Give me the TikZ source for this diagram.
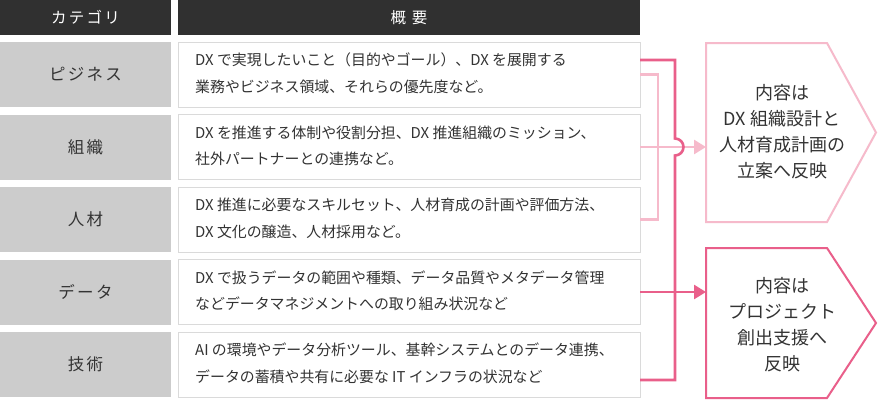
\documentclass[tikz,border=0pt]{standalone}
\usepackage{fontspec}
\setmainfont{Noto Sans CJK JP}
\newfontfamily\catfont[LetterSpace=14]{Noto Sans CJK JP}
\usetikzlibrary{arrows.meta,calc}
\definecolor{hdr}{HTML}{303030}
\definecolor{catgray}{HTML}{CCCCCC}
\definecolor{boxline}{HTML}{DADADA}
\definecolor{txt}{HTML}{333333}
\definecolor{pinkdark}{HTML}{E95F8A}
\definecolor{pinklight}{HTML}{F6BACB}
\tikzset{
  hdrbox/.style={fill=hdr, draw=none, minimum height=35pt, inner sep=0pt, outer sep=0pt,
    text=white, font=\catfont\fontsize{15.5}{18}\selectfont},
  catbox/.style={fill=catgray, draw=none, minimum width=171pt, minimum height=65pt, inner sep=0pt, outer sep=0pt,
    text=txt, font=\catfont\fontsize{16.5}{20}\selectfont},
  ovbox/.style={fill=white, draw=boxline, line width=1pt, minimum width=462pt, minimum height=65pt, inner sep=0pt, outer sep=0pt},
  ovtext/.style={anchor=west, align=left, inner sep=0pt, text=txt, font=\fontsize{14.9}{26.5}\selectfont},
  pentarea/.style={draw=none, minimum width=171pt, inner sep=0pt, outer sep=0pt},
  penttext/.style={align=center, inner sep=0pt, text=txt, font=\fontsize{18}{26}\selectfont},
  darkline/.style={draw=pinkdark, line width=2.6pt},
  lightline/.style={draw=pinklight, line width=2.6pt},
  tipped/.style={-{Triangle[length=12pt,width=14pt]}},
}
\begin{document}
\begin{tikzpicture}[x=1pt,y=-1pt]
\useasboundingbox (0,0) rectangle (878,400);
\fill[white] (0,0) rectangle (878,400);

% header
\node[hdrbox, minimum width=171pt] (h1) at (85.5,17.5) {カテゴリ};
\node[hdrbox, minimum width=462pt] (h2) at (409,17.5) {概 要};

% categories
\node[catbox] (c1) at (85.5,74.5) {ピジネス};
\node[catbox] (c2) at (85.5,147) {組織};
\node[catbox] (c3) at (85.5,219.5) {人材};
\node[catbox] (c4) at (85.5,292) {データ};
\node[catbox] (c5) at (85.5,364.5) {技術};

% overview boxes
\node[ovbox] (o1) at (409,74.5) {};
\node[ovbox] (o2) at (409,147) {};
\node[ovbox] (o3) at (409,219.5) {};
\node[ovbox] (o4) at (409,292) {};
\node[ovbox] (o5) at (409,364.5) {};

\node[ovtext] (t1) at ([xshift=17pt,yshift=1pt]o1.west) {DX で実現したいこと（目的やゴール）、DX を展開する\\業務やビジネス領域、それらの優先度など。};
\node[ovtext] (t2) at ([xshift=17pt,yshift=1pt]o2.west) {DX を推進する体制や役割分担、DX 推進組織のミッション、\\社外パートナーとの連携など。};
\node[ovtext] (t3) at ([xshift=17pt,yshift=1pt]o3.west) {DX 推進に必要なスキルセット、人材育成の計画や評価方法、\\DX 文化の醸造、人材採用など。};
\node[ovtext] (t4) at ([xshift=17pt,yshift=1pt]o4.west) {DX で扱うデータの範囲や種類、データ品質やメタデータ管理\\などデータマネジメントへの取り組み状況など};
\node[ovtext] (t5) at ([xshift=17pt,yshift=1pt]o5.west) {AI の環境やデータ分析ツール、基幹システムとのデータ連携、\\データの蓄積や共有に必要な IT インフラの状況など};

% pentagons
\node[pentarea, minimum height=179pt] (p1) at (791.5,132.5) {};
\node[pentarea, minimum height=150pt] (p2) at (791.5,323) {};
\draw[draw=pinklight, line width=2pt, fill=white]
  (p1.north west) -- ([xshift=-50pt]p1.north east) -- ([xshift=-1pt]p1.east)
  -- ([xshift=-50pt]p1.south east) -- (p1.south west) -- cycle;
\draw[draw=pinkdark, line width=2pt, fill=white]
  (p2.north west) -- ([xshift=-50pt]p2.north east) -- ([xshift=-1pt]p2.east)
  -- ([xshift=-50pt]p2.south east) -- (p2.south west) -- cycle;
\node[penttext] (pt1) at (782,131.5) {内容は\\DX 組織設計と\\人材育成計画の\\立案へ反映};
\node[penttext] (pt2) at (782,325) {内容は\\プロジェクト\\創出支援へ\\反映};

% connectors
\coordinate (lv) at (658,0);
\coordinate (dv) at (675,0);
\coordinate (d1) at ([yshift=14.5pt]o1.east);
\coordinate (d5) at ([yshift=-15.5pt]o5.east);

\draw[lightline] (o1.east) -- (lv |- o1.east) -- (lv |- o3.east) -- (o3.east);
\draw[lightline, tipped] (o2.east) -- (p1.west |- o2.east);

\draw[darkline, line join=miter] (d1) -- (dv |- d1) -- ($(dv |- o2.east)+(0,8.5pt)$)
  arc[start angle=90, end angle=-90, radius=8.5pt] -- (dv |- d5) -- (d5);
\draw[darkline, tipped] (o4.east) -- (p2.west |- o4.east);
\end{tikzpicture}
\end{document}
